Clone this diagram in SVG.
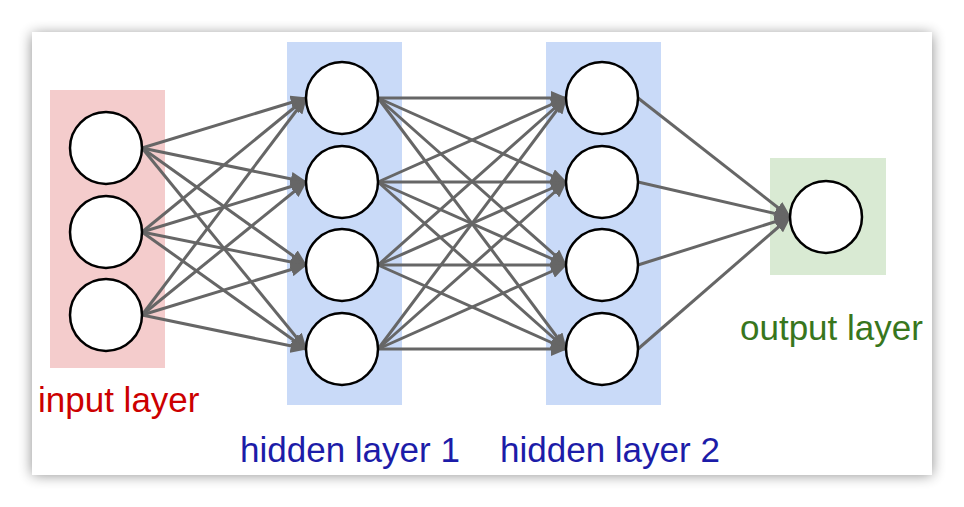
<svg xmlns="http://www.w3.org/2000/svg" width="964" height="507" viewBox="0 0 964 507">
<defs>
<filter id="sh" x="-10%" y="-10%" width="120%" height="120%"><feGaussianBlur stdDeviation="7"/></filter>
<marker id="ah" viewBox="0 0 10 10" refX="9" refY="5" markerWidth="17" markerHeight="14" markerUnits="userSpaceOnUse" orient="auto" preserveAspectRatio="none"><path d="M0,0L10,5L0,10z" fill="#666"/></marker>
</defs>
<style>
.n{fill:#fff;stroke:#000;stroke-width:2.5}
.e line{stroke:#666;stroke-width:3;marker-end:url(#ah)}
.t{font-family:"Liberation Sans",Arial,sans-serif;font-size:35px}
</style>
<rect width="964" height="507" fill="#fff"/>
<rect x="32" y="34" width="900" height="441" fill="#000" opacity="0.45" filter="url(#sh)"/>
<rect x="32" y="32" width="900" height="443" fill="#fff"/>
<rect x="50" y="90" width="115" height="278" fill="#f4cccc"/>
<rect x="287" y="42" width="115" height="363" fill="#c9daf8"/>
<rect x="546" y="42" width="115" height="363" fill="#c9daf8"/>
<rect x="770" y="158" width="116" height="117" fill="#d9ead3"/>
<g class="e" id="connectors">
<g id="l1">
<line x1="142" y1="148" x2="306" y2="98"/><line x1="142" y1="148" x2="306" y2="182"/><line x1="142" y1="148" x2="306" y2="265"/><line x1="142" y1="148" x2="306" y2="349"/>
<line x1="142" y1="232" x2="306" y2="98"/><line x1="142" y1="232" x2="306" y2="182"/><line x1="142" y1="232" x2="306" y2="265"/><line x1="142" y1="232" x2="306" y2="349"/>
<line x1="142" y1="315" x2="306" y2="98"/><line x1="142" y1="315" x2="306" y2="182"/><line x1="142" y1="315" x2="306" y2="265"/><line x1="142" y1="315" x2="306" y2="349"/>
</g>
<g id="l2">
<line x1="378" y1="98" x2="566" y2="98"/><line x1="378" y1="98" x2="566" y2="182"/><line x1="378" y1="98" x2="566" y2="265"/><line x1="378" y1="98" x2="566" y2="349"/>
<line x1="378" y1="182" x2="566" y2="98"/><line x1="378" y1="182" x2="566" y2="182"/><line x1="378" y1="182" x2="566" y2="265"/><line x1="378" y1="182" x2="566" y2="349"/>
<line x1="378" y1="265" x2="566" y2="98"/><line x1="378" y1="265" x2="566" y2="182"/><line x1="378" y1="265" x2="566" y2="265"/><line x1="378" y1="265" x2="566" y2="349"/>
<line x1="378" y1="349" x2="566" y2="98"/><line x1="378" y1="349" x2="566" y2="182"/><line x1="378" y1="349" x2="566" y2="265"/><line x1="378" y1="349" x2="566" y2="349"/>
</g>
<g id="l3">
<line x1="638" y1="98" x2="790" y2="217"/><line x1="638" y1="182" x2="790" y2="217"/><line x1="638" y1="265" x2="790" y2="217"/><line x1="638" y1="349" x2="790" y2="217"/>
</g>
</g>
<g id="i1"><circle class="n" cx="106" cy="148" r="36"/></g>
<g id="i2"><circle class="n" cx="106" cy="232" r="36"/></g>
<g id="i3"><circle class="n" cx="106" cy="315" r="36"/></g>
<g id="h1a"><circle class="n" cx="342" cy="98" r="36"/></g>
<g id="h1b"><circle class="n" cx="342" cy="182" r="36"/></g>
<g id="h1c"><circle class="n" cx="342" cy="265" r="36"/></g>
<g id="h1d"><circle class="n" cx="342" cy="349" r="36"/></g>
<g id="h2a"><circle class="n" cx="602" cy="98" r="36"/></g>
<g id="h2b"><circle class="n" cx="602" cy="182" r="36"/></g>
<g id="h2c"><circle class="n" cx="602" cy="265" r="36"/></g>
<g id="h2d"><circle class="n" cx="602" cy="349" r="36"/></g>
<g id="o1"><circle class="n" cx="826" cy="217" r="36"/></g>
<text class="t" x="38" y="412" fill="#cc0000">input layer</text>
<text class="t" x="240" y="462" fill="#1c1ca8">hidden layer 1</text>
<text class="t" x="500" y="462" fill="#1c1ca8">hidden layer 2</text>
<text class="t" x="740" y="340" fill="#38761d">output layer</text>
</svg>
